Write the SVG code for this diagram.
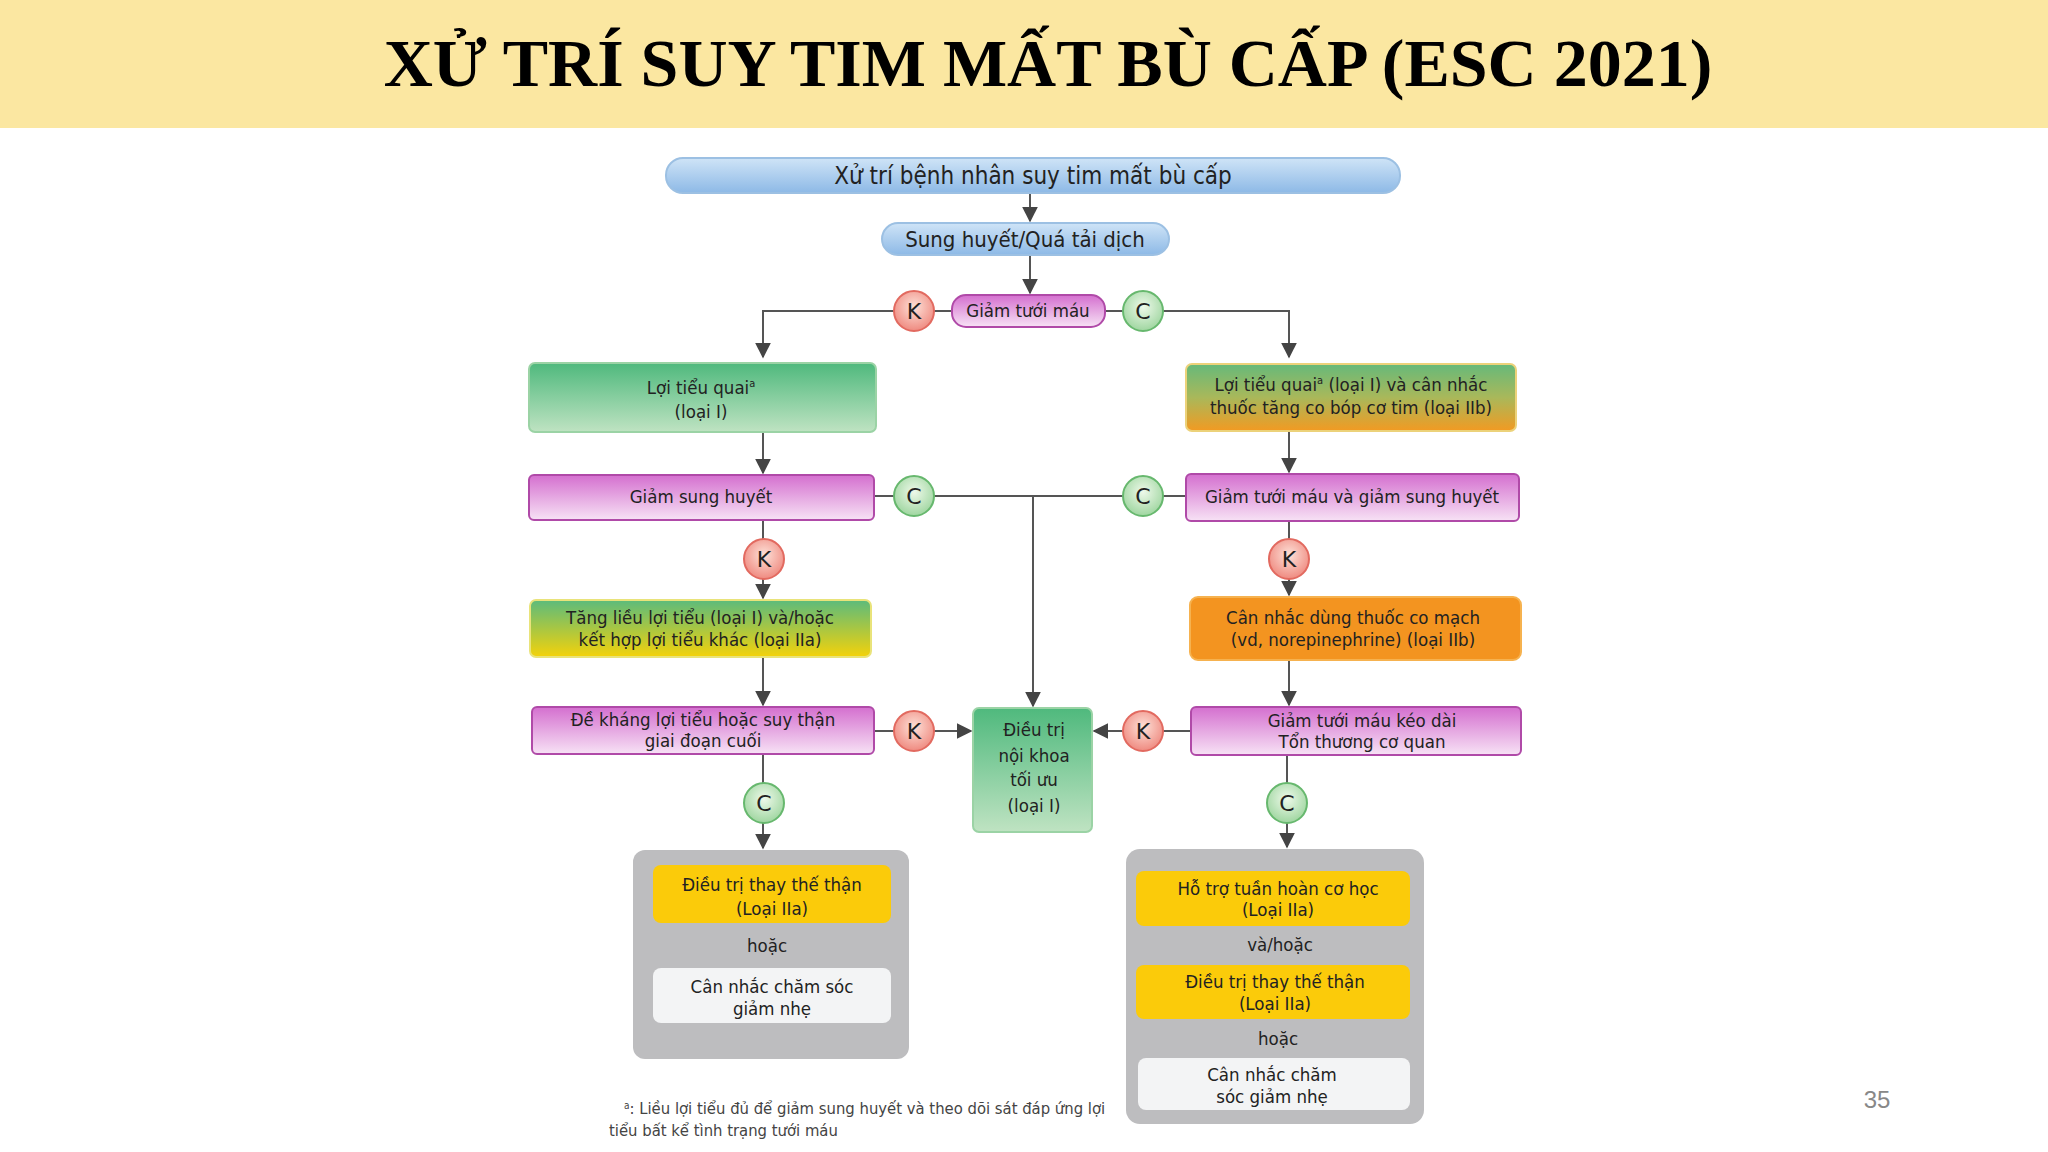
<svg xmlns="http://www.w3.org/2000/svg" width="2048" height="1152" viewBox="0 0 2048 1152">
<defs>
<linearGradient id="gb" x1="0" y1="0" x2="0" y2="1"><stop offset="0" stop-color="#cfe4f7"/><stop offset="1" stop-color="#8db9e6"/></linearGradient>
<linearGradient id="gp" x1="0" y1="0" x2="0" y2="1"><stop offset="0" stop-color="#d46fcf"/><stop offset="1" stop-color="#f7e2f5"/></linearGradient>
<linearGradient id="gg" x1="0" y1="0" x2="0" y2="1"><stop offset="0" stop-color="#4fb97d"/><stop offset="1" stop-color="#bfe3c2"/></linearGradient>
<linearGradient id="go" x1="0" y1="0" x2="0" y2="1"><stop offset="0" stop-color="#66b97a"/><stop offset="0.5" stop-color="#a9b85a"/><stop offset="1" stop-color="#f29a22"/></linearGradient>
<linearGradient id="gy" x1="0" y1="0" x2="0" y2="1"><stop offset="0" stop-color="#5cbb7c"/><stop offset="1" stop-color="#f4d20a"/></linearGradient>
<radialGradient id="ck" cx="0.5" cy="0.4" r="0.6"><stop offset="0" stop-color="#fde1d8"/><stop offset="1" stop-color="#ef8a80"/></radialGradient>
<radialGradient id="cc" cx="0.5" cy="0.4" r="0.6"><stop offset="0" stop-color="#eef9ea"/><stop offset="1" stop-color="#9fd6a0"/></radialGradient>
<marker id="ar" viewBox="0 0 10 10" refX="9" refY="5" markerWidth="8" markerHeight="8" orient="auto"><path d="M0,0 L10,5 L0,10 z" fill="#444"/></marker>
<style>
.t{font-family:"DejaVu Sans Condensed","DejaVu Sans",sans-serif;font-size:18.5px;fill:#222;text-anchor:middle}
.ln{stroke:#555;stroke-width:2;fill:none}
.bx{stroke-width:2}
.k{fill:url(#ck);stroke:#e26a60;stroke-width:2}
.c{fill:url(#cc);stroke:#67b86e;stroke-width:2}
.ct{font-family:"DejaVu Sans",sans-serif;font-size:22px;fill:#222;text-anchor:middle}
</style>
</defs>
<rect width="2048" height="1152" fill="#fff"/>
<rect width="2048" height="128" fill="#fbe7a1"/>
<text x="1048" y="86" font-family="Liberation Serif,serif" font-weight="bold" font-size="68" text-anchor="middle" fill="#000">XỬ TRÍ SUY TIM MẤT BÙ CẤP (ESC 2021)</text>

<g id="connectors">
<path class="ln" d="M1030,193 V221" marker-end="url(#ar)"/>
<path class="ln" d="M1030,255 V293" marker-end="url(#ar)"/>
<path class="ln" d="M894,311 H763 V357" marker-end="url(#ar)"/>
<path class="ln" d="M1163,311 H1289 V357" marker-end="url(#ar)"/>
<path class="ln" d="M934,311 H952 M1105,311 H1123"/>
<path class="ln" d="M763,432 V473" marker-end="url(#ar)"/>
<path class="ln" d="M1289,431 V472" marker-end="url(#ar)"/>
<path class="ln" d="M874,496 H894 M934,496 H1123 M1163,496 H1186"/>
<path class="ln" d="M1033,496 V706" marker-end="url(#ar)"/>
<path class="ln" d="M763,520 V539 M763,579 V598" marker-end="url(#ar)"/>
<path class="ln" d="M1289,521 V539 M1289,579 V595" marker-end="url(#ar)"/>
<path class="ln" d="M763,657 V705" marker-end="url(#ar)"/>
<path class="ln" d="M1289,660 V705" marker-end="url(#ar)"/>
<path class="ln" d="M874,731 H894"/>
<path class="ln" d="M934,731 H971" marker-end="url(#ar)"/>
<path class="ln" d="M1191,731 H1163"/>
<path class="ln" d="M1123,731 H1094" marker-end="url(#ar)"/>
<path class="ln" d="M763,754 V783 M763,823 V848" marker-end="url(#ar)"/>
<path class="ln" d="M1287,755 V783 M1287,823 V847" marker-end="url(#ar)"/>
</g>

<g id="n1"><rect x="666" y="158" width="734" height="35" rx="17" fill="url(#gb)" stroke="#9cc0e3" class="bx"/><text class="t" x="1033" y="184" style="font-size:24px">Xử trí bệnh nhân suy tim mất bù cấp</text></g>
<g id="n2"><rect x="882" y="223" width="287" height="32" rx="16" fill="url(#gb)" stroke="#9cc0e3" class="bx"/><text class="t" x="1025" y="247" style="font-size:22px">Sung huyết/Quá tải dịch</text></g>
<g id="n3"><rect x="952" y="295" width="153" height="32" rx="14" fill="url(#gp)" stroke="#b04aa8" class="bx"/><text class="t" x="1028" y="317">Giảm tưới máu</text></g>
<g id="k1"><circle cx="914" cy="311" r="20" class="k"/><text class="ct" x="914" y="319">K</text></g>
<g id="c1"><circle cx="1143" cy="311" r="20" class="c"/><text class="ct" x="1143" y="319">C</text></g>
<g id="n4"><rect x="529" y="363" width="347" height="69" rx="6" fill="url(#gg)" stroke="#9bd3a5" class="bx"/><text class="t" x="701" y="394">Lợi tiểu quai<tspan font-size="11" dy="-7">a</tspan></text><text class="t" x="701" y="418">(loại I)</text></g>
<g id="n5"><rect x="1186" y="364" width="330" height="67" rx="6" fill="url(#go)" stroke="#ecd27a" class="bx"/><text class="t" x="1351" y="391">Lợi tiểu quai<tspan font-size="11" dy="-7">a</tspan><tspan dy="7"> (loại I) và cân nhắc</tspan></text><text class="t" x="1351" y="414">thuốc tăng co bóp cơ tim (loại IIb)</text></g>
<g id="n6"><rect x="529" y="475" width="345" height="45" rx="5" fill="url(#gp)" stroke="#b04aa8" class="bx"/><text class="t" x="701" y="503">Giảm sung huyết</text></g>
<g id="n7"><rect x="1186" y="474" width="333" height="47" rx="5" fill="url(#gp)" stroke="#b04aa8" class="bx"/><text class="t" x="1352" y="503">Giảm tưới máu và giảm sung huyết</text></g>
<g id="c2"><circle cx="914" cy="496" r="20" class="c"/><text class="ct" x="914" y="504">C</text></g>
<g id="c3"><circle cx="1143" cy="496" r="20" class="c"/><text class="ct" x="1143" y="504">C</text></g>
<g id="k2"><circle cx="764" cy="559" r="20" class="k"/><text class="ct" x="764" y="567">K</text></g>
<g id="k3"><circle cx="1289" cy="559" r="20" class="k"/><text class="ct" x="1289" y="567">K</text></g>
<g id="n8"><rect x="530" y="600" width="341" height="57" rx="6" fill="url(#gy)" stroke="#e9e37a" class="bx"/><text class="t" x="700" y="624">Tăng liều lợi tiểu (loại I) và/hoặc</text><text class="t" x="700" y="646">kết hợp lợi tiểu khác (loại IIa)</text></g>
<g id="n9"><rect x="1190" y="597" width="331" height="63" rx="8" fill="#f39420" stroke="#f6b24f" class="bx"/><text class="t" x="1353" y="624">Cân nhắc dùng thuốc co mạch</text><text class="t" x="1353" y="646">(vd, norepinephrine) (loại IIb)</text></g>
<g id="n10"><rect x="532" y="707" width="342" height="47" rx="5" fill="url(#gp)" stroke="#b04aa8" class="bx"/><text class="t" x="703" y="726">Đề kháng lợi tiểu hoặc suy thận</text><text class="t" x="703" y="747">giai đoạn cuối</text></g>
<g id="n11"><rect x="1191" y="707" width="330" height="48" rx="5" fill="url(#gp)" stroke="#b04aa8" class="bx"/><text class="t" x="1362" y="727">Giảm tưới máu kéo dài</text><text class="t" x="1362" y="748">Tổn thương cơ quan</text></g>
<g id="n12"><rect x="973" y="708" width="119" height="124" rx="6" fill="url(#gg)" stroke="#9bd3a5" class="bx"/><text class="t" x="1034" y="736">Điều trị</text><text class="t" x="1034" y="762">nội khoa</text><text class="t" x="1034" y="786">tối ưu</text><text class="t" x="1034" y="812">(loại I)</text></g>
<g id="k4"><circle cx="914" cy="731" r="20" class="k"/><text class="ct" x="914" y="739">K</text></g>
<g id="k5"><circle cx="1143" cy="731" r="20" class="k"/><text class="ct" x="1143" y="739">K</text></g>
<g id="c4"><circle cx="764" cy="803" r="20" class="c"/><text class="ct" x="764" y="811">C</text></g>
<g id="c5"><circle cx="1287" cy="803" r="20" class="c"/><text class="ct" x="1287" y="811">C</text></g>
<g id="n13"><rect x="633" y="850" width="276" height="209" rx="12" fill="#bdbdbf"/>
<rect x="653" y="865" width="238" height="58" rx="8" fill="#fbcb0a"/><text class="t" x="772" y="891">Điều trị thay thế thận</text><text class="t" x="772" y="915">(Loại IIa)</text>
<text class="t" x="767" y="952">hoặc</text>
<rect x="653" y="968" width="238" height="55" rx="8" fill="#f3f4f5"/><text class="t" x="772" y="993">Cân nhắc chăm sóc</text><text class="t" x="772" y="1015">giảm nhẹ</text></g>
<g id="n14"><rect x="1126" y="849" width="298" height="275" rx="14" fill="#bdbdbf"/>
<rect x="1136" y="871" width="274" height="55" rx="8" fill="#fbcb0a"/><text class="t" x="1278" y="895">Hỗ trợ tuần hoàn cơ học</text><text class="t" x="1278" y="916">(Loại IIa)</text>
<text class="t" x="1280" y="951">và/hoặc</text>
<rect x="1136" y="965" width="274" height="54" rx="8" fill="#fbcb0a"/><text class="t" x="1275" y="988">Điều trị thay thế thận</text><text class="t" x="1275" y="1010">(Loại IIa)</text>
<text class="t" x="1278" y="1045">hoặc</text>
<rect x="1138" y="1058" width="272" height="52" rx="8" fill="#f3f4f5"/><text class="t" x="1272" y="1081">Cân nhắc chăm</text><text class="t" x="1272" y="1103">sóc giảm nhẹ</text></g>
<g id="note" font-family="DejaVu Sans Condensed,DejaVu Sans,sans-serif" font-size="16.5" fill="#444">
<text x="624" y="1114"><tspan font-size="10" dy="-5">a</tspan><tspan dy="5">: Liều lợi tiểu đủ để giảm sung huyết và theo dõi sát đáp ứng lợi</tspan></text>
<text x="609" y="1136">tiểu bất kể tình trạng tưới máu</text></g>
<text x="1877" y="1108" font-family="Liberation Sans,sans-serif" font-size="24" fill="#888" text-anchor="middle">35</text>
</svg>
